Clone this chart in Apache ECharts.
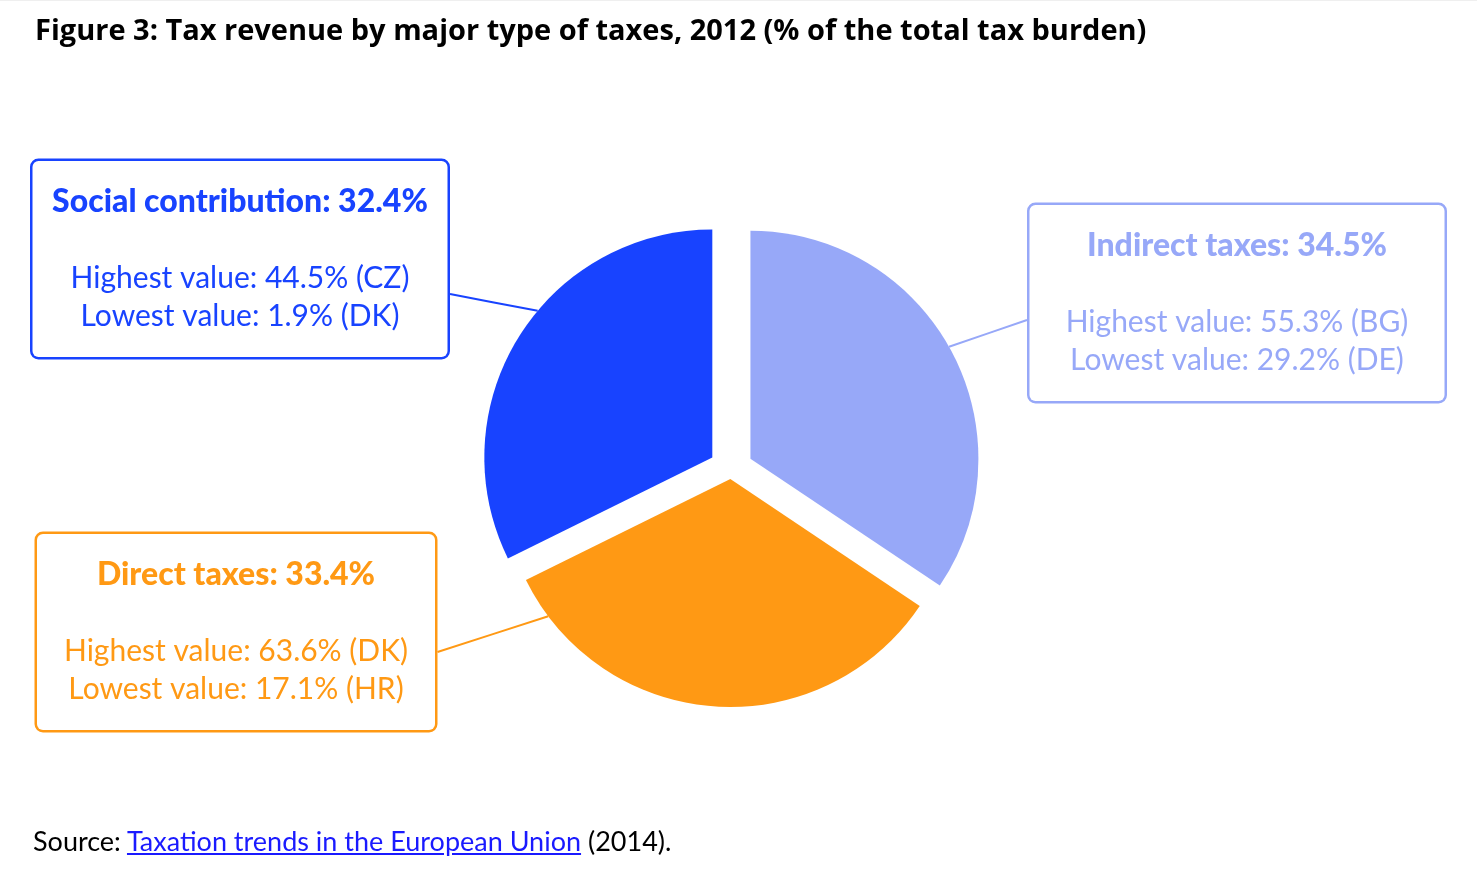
<!DOCTYPE html>
<html>
<head>
<meta charset="utf-8">
<script src="https://cdn.jsdelivr.net/npm/echarts@6/dist/echarts.min.js"></script>
<style>
  html, body { margin: 0; padding: 0; background: #fff; }
  #chart { width: 1477px; height: 873px; }
  #topline { position: absolute; left: 0; top: 0; width: 1477px; height: 1px; background: #efefef; }
  #source { position: absolute; left: 33px; top: 825px; font-family: Lato, sans-serif; font-size: 27px; color: #000; line-height: 32px; }
  #source span { color: #1a1aff; text-decoration: underline; }
</style>
</head>
<body>
<div id="chart"></div>
<div id="topline"></div>
<div id="source">Source: <span>Taxation trends in the European Union</span> (2014).</div>
<script>
const categories = ['Indirect taxes', 'Direct taxes', 'Social contribution'];
const shares = [34.5, 33.4, 32.4];
const highestValues = [55.3, 63.6, 44.5];
const highestCountries = ['BG', 'DK', 'CZ'];
const lowestValues = [29.2, 17.1, 1.9];
const lowestCountries = ['DE', 'HR', 'DK'];

const colors = ['#97a8f8', '#ff9914', '#1843ff'];
// pie placement, info box placement, how far each slice is pulled out
const pieCenter = [731, 469];
const pieRadius = 228;
const boxCenters = [[1237, 303], [236, 632], [240, 259]];
const boxWidths = [415, 398, 415];
const explode = [22, 10, 22];
// connector: where it leaves the box (dy from box middle) and where it meets the slice (deg clockwise from 12 o'clock)
const lineDy = [17, 20, 35];
const lineAngle = [60.6, 233, 310];

const chart = echarts.init(document.getElementById('chart'));

function boxText(j) {
  return '{t|' + categories[j] + ': ' + shares[j] + '%}\n\n' +
    '{v|Highest value: ' + highestValues[j] + '% (' + highestCountries[j] + ')}\n' +
    '{v|Lowest value: ' + lowestValues[j] + '% (' + lowestCountries[j] + ')}';
}

const total = shares.reduce((a, b) => a + b, 0);
let cum = 0;
const midAngles = shares.map(s => {
  const mid = Math.PI / 2 - 2 * Math.PI * (cum + s / 2) / total;
  cum += s;
  return mid;
});

const sliceCenters = categories.map((_, i) => [
  pieCenter[0] + explode[i] * Math.cos(midAngles[i]),
  pieCenter[1] - explode[i] * Math.sin(midAngles[i])
]);

// one pie per slice, so each slice can be pushed out by its own distance
const series = categories.map((_, i) => ({
  type: 'pie',
  center: sliceCenters[i],
  radius: pieRadius,
  startAngle: 90,
  avoidLabelOverlap: false,
  animation: false,
  emphasis: { disabled: true },
  data: categories.map((name, j) => ({
    name: name,
    value: shares[j],
    itemStyle: { color: j === i ? colors[j] : 'rgba(0,0,0,0)' },
    label: {
      show: j === i,
      formatter: boxText(j),
      width: boxWidths[j],
      padding: [22, 0, 22, 0],
      align: 'center',
      lineHeight: 38,
      color: colors[j],
      borderColor: colors[j],
      borderWidth: 2.5,
      borderRadius: 6,
      backgroundColor: '#fff',
      rich: {
        t: { fontFamily: 'Lato', fontWeight: 900, fontSize: 32, lineHeight: 38, color: colors[j] },
        v: { fontFamily: 'Lato', fontSize: 30, lineHeight: 38, color: colors[j] }
      }
    },
    labelLine: { show: j === i, length: 0, length2: 0, lineStyle: { width: 2, color: colors[j] } }
  })),
  labelLayout: function (params) {
    const r = params.labelRect;
    const boxLeft = boxCenters[i][0] - r.width / 2;
    const rightSide = boxCenters[i][0] > sliceCenters[i][0];
    const sx = rightSide ? boxLeft : boxLeft + r.width;
    const sy = boxCenters[i][1] + lineDy[i];
    const a = lineAngle[i] * Math.PI / 180;
    const ex = sliceCenters[i][0] + pieRadius * Math.sin(a);
    const ey = sliceCenters[i][1] - pieRadius * Math.cos(a);
    return {
      x: boxCenters[i][0],
      y: boxCenters[i][1],
      align: 'center',
      verticalAlign: 'middle',
      labelLinePoints: [[sx, sy], [(sx + ex) / 2, (sy + ey) / 2], [ex, ey]]
    };
  }
}));

chart.setOption({
  animation: false,
  tooltip: { show: false },
  title: {
    text: 'Figure 3: Tax revenue by major type of taxes, 2012 (% of the total tax burden)',
    left: 30,
    top: 12,
    textStyle: { fontFamily: 'Open Sans', fontWeight: 'bold', fontSize: 29, color: '#000' }
  },
  series: series
});
</script>
</body>
</html>
